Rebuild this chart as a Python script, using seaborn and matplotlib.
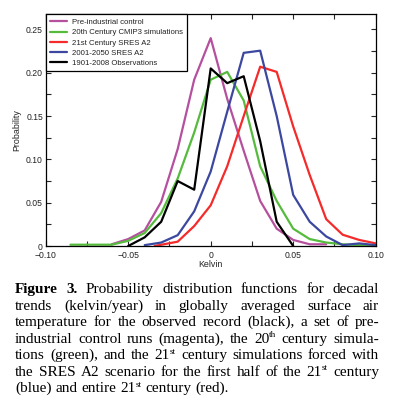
import numpy as np
import pandas as pd
import matplotlib
matplotlib.use("Agg")
import matplotlib.pyplot as plt
import seaborn as sns

# ---------------- data ----------------
labels = ["Pre-industrial control", "20th Century CMIP3 simulations",
          "21st Century SRES A2", "2001-2050 SRES A2", "1901-2008 Observations"]
colors = ["#b5509f", "#55bb3d", "#f52a2a", "#3c48a0", "#000000"]

x_pi = [-0.06, -0.05, -0.04, -0.03, -0.02, -0.01, 0.00, 0.01, 0.02, 0.03, 0.04, 0.05, 0.06, 0.07]
y_pi = [0.002, 0.008, 0.018, 0.051, 0.112, 0.192, 0.240, 0.170, 0.110, 0.052, 0.020, 0.007, 0.002, 0.002]

x_20c = [-0.085, -0.08, -0.07, -0.06, -0.05, -0.04, -0.03, -0.02, -0.01, 0.00, 0.01,
         0.02, 0.03, 0.04, 0.05, 0.06, 0.07, 0.08, 0.09, 0.10]
y_20c = [0.0015, 0.0015, 0.0015, 0.0015, 0.006, 0.015, 0.038, 0.078, 0.131, 0.192, 0.201,
         0.168, 0.092, 0.052, 0.020, 0.008, 0.004, 0.002, 0.001, 0.001]

x_21c = [-0.034, -0.02, -0.01, 0.00, 0.01, 0.02, 0.03, 0.04, 0.05, 0.06, 0.07, 0.08, 0.09, 0.10]
y_21c = [0.000, 0.005, 0.023, 0.047, 0.092, 0.150, 0.207, 0.201, 0.138, 0.082, 0.031, 0.013, 0.007, 0.003]

x_a2 = [-0.04, -0.03, -0.02, -0.01, 0.00, 0.01, 0.02, 0.03, 0.04, 0.05, 0.06, 0.07, 0.08, 0.09, 0.10]
y_a2 = [0.001, 0.004, 0.0125, 0.040, 0.086, 0.155, 0.223, 0.2255, 0.150, 0.059, 0.028, 0.011, 0.001, 0.003, 0.001]

x_obs = [-0.05, -0.04, -0.03, -0.02, -0.01, 0.00, 0.01, 0.02, 0.03, 0.04, 0.05]
y_obs = [0.000, 0.010, 0.028, 0.075, 0.065, 0.205, 0.188, 0.196, 0.121, 0.028, 0.000]

xtick_vals = [-0.10, -0.05, 0.0, 0.05, 0.10]
xtick_labels = ["\u22120.10", "\u22120.05", "0", "0.05", "0.10"]
ytick_vals = [0.0, 0.05, 0.10, 0.15, 0.20, 0.25]
ytick_labels = ["0", "0.05", "0.10", "0.15", "0.20", "0.25"]

# ---------------- figure ----------------
sns.set_style("ticks")
plt.rcParams['font.family'] = ['Liberation Sans', 'DejaVu Sans']

W, H = 403, 411
fig = plt.figure(figsize=(W / 100, H / 100), dpi=100)
ax = fig.add_axes([45.7 / W, 1 - 246 / H, 330 / W, (246 - 14.3) / H])

series = [(x_pi, y_pi), (x_20c, y_20c), (x_21c, y_21c), (x_a2, y_a2), (x_obs, y_obs)]
frames = []
for lab, (xs, ys) in zip(labels, series):
    frames.append(pd.DataFrame({"Kelvin": xs, "Probability": ys, "series": lab}))
df = pd.concat(frames, ignore_index=True)

sns.lineplot(data=df, x="Kelvin", y="Probability", hue="series", hue_order=labels,
             palette=dict(zip(labels, colors)), estimator=None, sort=False,
             linewidth=1.6, ax=ax)

ax.set_xlim(-0.10, 0.10)
ax.set_ylim(0, 0.2675)
ax.set_xticks(xtick_vals)
ax.set_xticklabels(xtick_labels)
ax.set_xticks([-0.075, -0.025, 0.025, 0.075], minor=True)
ax.set_yticks(ytick_vals)
ax.set_yticklabels(ytick_labels)
ax.set_yticks([0.025, 0.075, 0.125, 0.175, 0.225], minor=True)
ax.tick_params(which="both", direction="in", top=True, right=True, length=3.6,
               width=0.8, labelsize=6.2, labelcolor="#222222")
ax.tick_params(axis="x", which="both", pad=3.6)
ax.tick_params(axis="y", which="both", pad=2.0)
for s in ax.spines.values():
    s.set_linewidth(0.9)
    s.set_color("black")

ax.set_xlabel("Kelvin", fontsize=6.4, color="#222222")
ax.set_ylabel("Probability", fontsize=6.4, color="#222222")
ax.xaxis.set_label_coords(0.5, -0.061)
ax.yaxis.set_label_coords(-0.075, 0.5)

h, l = ax.get_legend_handles_labels()
leg = ax.legend(h, l, loc="upper left", bbox_to_anchor=(0, 1), borderaxespad=0,
                fontsize=5.6, frameon=True, fancybox=False, handlelength=2.2,
                handletextpad=0.65, labelspacing=0.36, borderpad=0.55)
leg.get_frame().set_edgecolor("black")
leg.get_frame().set_linewidth(0.9)
leg.get_frame().set_alpha(1)
for line in leg.get_lines():
    line.set_linewidth(1.6)
for t in leg.get_texts():
    t.set_color("#222222")

# ---------------- caption (justified) ----------------
cap_lines = [
    ([[("Figure", "b")], [("3.", "b")], [("Probability", "n")], [("distribution", "n")],
      [("functions", "n")], [("for", "n")], [("decadal", "n")]], True),
    ([[(w, "n")] for w in "trends (kelvin/year) in globally averaged surface air".split()], True),
    ([[(w, "n")] for w in "temperature for the observed record (black), a set of pre-".split()], True),
    ([[(w, "n")] for w in "industrial control runs (magenta), the".split()] +
     [[("20", "n"), ("th", "s")]] +
     [[(w, "n")] for w in "century simula-".split()], True),
    ([[(w, "n")] for w in "tions (green), and the".split()] +
     [[("21", "n"), ("st", "s")]] +
     [[(w, "n")] for w in "century simulations forced with".split()], True),
    ([[(w, "n")] for w in "the SRES A2 scenario for the first half of the".split()] +
     [[("21", "n"), ("st", "s")]] + [[("century", "n")]], True),
    ([[(w, "n")] for w in "(blue) and entire".split()] +
     [[("21", "n"), ("st", "s")]] +
     [[(w, "n")] for w in "century (red).".split()], False),
]

serif = ["Liberation Serif", "DejaVu Serif"]
L, R = 15.0, 379.0
base0, dy = 293.3, 16.5
renderer = fig.canvas.get_renderer()

# size the caption font so the last (unjustified) line spans the same width
probe = fig.text(0, 0, "(blue) and entire 21st century (red).", fontsize=10,
                 family=serif)
pw = probe.get_window_extent(renderer).width
probe.remove()
cap_fs = 10 * (233.0 - L) / pw
sup_fs = cap_fs * 0.6


def make_piece(txt, style, x, y):
    fs = sup_fs if style == "s" else cap_fs
    wt = "bold" if style == "b" else "normal"
    yy = y - cap_fs * 0.5 if style == "s" else y
    return fig.text(x / W, 1 - yy / H, txt, fontsize=fs, fontweight=wt, family=serif,
                    ha="left", va="baseline", color="black")


for i, (words, justify) in enumerate(cap_lines):
    y = base0 + i * dy
    widths = []
    for word in words:
        wsum = 0
        for txt, st in word:
            t = make_piece(txt, st, 0, y)
            wsum += t.get_window_extent(renderer).width
            t.remove()
        widths.append(wsum)
    space = make_piece("a a", "n", 0, y)
    sw = space.get_window_extent(renderer).width
    space.remove()
    aa = make_piece("aa", "n", 0, y)
    sw -= aa.get_window_extent(renderer).width
    aa.remove()
    if justify and len(words) > 1:
        gap = (R - L - sum(widths)) / (len(words) - 1)
    else:
        gap = sw
    x = L
    for word, wd in zip(words, widths):
        xx = x
        for txt, st in word:
            t = make_piece(txt, st, xx, y)
            xx += t.get_window_extent(renderer).width
        x += wd + gap

fig.savefig("out.png", dpi=100)
